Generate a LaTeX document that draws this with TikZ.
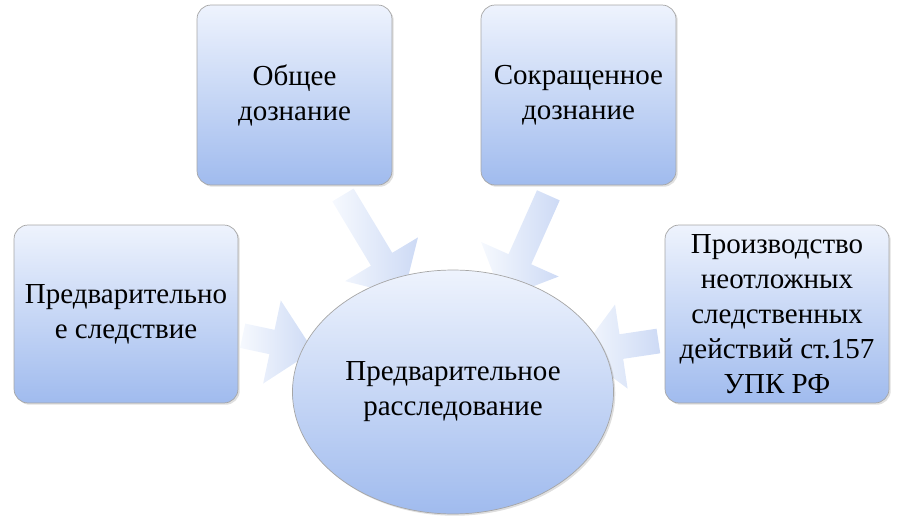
\documentclass[tikz,border=0pt]{standalone}
\usepackage{fontspec}
\setmainfont{Liberation Serif}
\usetikzlibrary{shapes.arrows,shapes.geometric,shadows}
\definecolor{boxtop}{RGB}{238, 243, 253}
\definecolor{boxbottom}{RGB}{160, 187, 238}
\definecolor{arrowlight}{RGB}{246, 249, 254}
\definecolor{arrowdark}{RGB}{205, 218, 245}

\begin{document}
\begin{tikzpicture}[x=0.02cm, y=-0.02cm,
    box/.style={draw=gray!70, rounded corners=8pt, top color=boxtop, bottom color=boxbottom,
      align=center, font=\fontsize{16.5}{20}\selectfont, inner sep=2pt,
      drop shadow={opacity=0.25, shadow xshift=1pt, shadow yshift=-1pt}},
    blockarrow/.style={single arrow, draw=none, left color=arrowlight, right color=arrowdark,
      minimum width=1.7cm, single arrow head extend=0.3cm, single arrow head indent=0pt}]
    \useasboundingbox (0,0) rectangle (909,530);

    % arrows
    \node[blockarrow, minimum height=1.45cm, rotate=-12] (arrleft) at (272,342) {};
    \node[blockarrow, minimum height=2.35cm, rotate=-59] (arrtopleft) at (370,240) {};
    \node[blockarrow, minimum height=2.25cm, rotate=-114] (arrtopright) at (528,241) {};
    \node[blockarrow, minimum height=1.6cm, rotate=-171.5] (arrright) at (625,346) {};

    % boxes
    \node[box, minimum width=4.48cm, minimum height=3.56cm] (sledstvie) at (126,314)
      {Предварительно\\е следствие};
    \node[box, minimum width=3.9cm, minimum height=3.6cm] (obshchee) at (294.5,95)
      {Общее\\дознание};
    \node[box, minimum width=3.9cm, minimum height=3.6cm] (sokr) at (578.5,95)
      {Сокращенное\\дознание};
    \node[box, minimum width=4.48cm, minimum height=3.56cm] (neotl) at (777,314)
      {Производство\\неотложных\\следственных\\действий ст.157\\УПК РФ};

    % center
    \node[ellipse, draw=gray!70, top color=boxtop, bottom color=boxbottom, align=center,
      font=\fontsize{16.5}{20}\selectfont, minimum width=6.32cm, minimum height=4.88cm,
      drop shadow={opacity=0.25, shadow xshift=1pt, shadow yshift=-1pt}] (rassl) at (453,392)
      {Предварительное\\расследование};
\end{tikzpicture}
\end{document}
